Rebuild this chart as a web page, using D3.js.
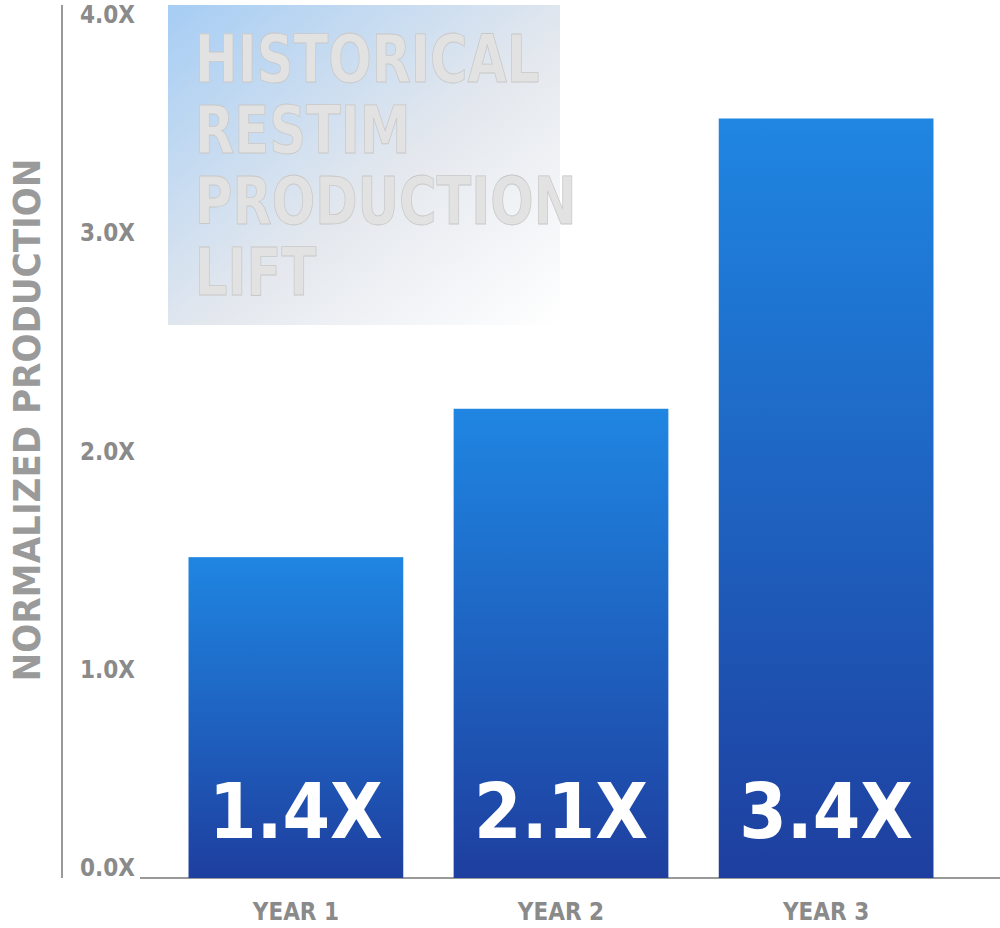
<!DOCTYPE html>
<html><head><meta charset="utf-8">
<script src="https://cdn.jsdelivr.net/npm/d3@7"></script>
<style>body{margin:0;background:#fff}</style>
</head><body><svg id="chart" width="1000" height="928"></svg>
<script>
const categories = ['YEAR 1', 'YEAR 2', 'YEAR 3']
const values = [1.47, 2.15, 3.48]
const valueLabels = ['1.4X', '2.1X', '3.4X']
const ticks = [0, 1, 2, 3, 4]
const titleLines = ['HISTORICAL', 'RESTIM', 'PRODUCTION', 'LIFT']

const font = '"Liberation Sans Narrow", "DejaVu Sans Condensed", sans-serif'
const svg = d3.select('#chart')

const y = d3.scaleLinear().domain([0, 4]).range([878, 5])
const x = d3.scaleBand().domain(categories).range([162, 960]).paddingInner(0.19).paddingOuter(0.1)

const defs = svg.append('defs')
const bg = defs.append('linearGradient').attr('id', 'bar').attr('x1', 0).attr('y1', 0).attr('x2', 0).attr('y2', 1)
bg.append('stop').attr('offset', 0).attr('stop-color', '#1f86e2')
bg.append('stop').attr('offset', 1).attr('stop-color', '#1e3f9f')
const tg = defs.append('linearGradient').attr('id', 'tbox').attr('x1', 0).attr('y1', 0).attr('x2', 1).attr('y2', 1)
tg.append('stop').attr('offset', 0).attr('stop-color', '#a6cdf4')
tg.append('stop').attr('offset', 0.55).attr('stop-color', '#e4e8ee')
tg.append('stop').attr('offset', 1).attr('stop-color', '#ffffff')

// title box
svg.append('rect').attr('x', 168).attr('y', 5).attr('width', 392).attr('height', 320).attr('fill', 'url(#tbox)')
svg.append('g').selectAll('text').data(titleLines).join('text')
  .attr('x', 195).attr('y', (d, i) => 82 + i * 71)
  .attr('font-family', font).attr('font-weight', 'bold').attr('font-size', 66)
  .attr('fill', '#e2e2e2').attr('stroke', '#c8c8c8').attr('stroke-width', 0.8)
  .attr('transform', 'translate(195,0) scale(0.86,1) translate(-195,0)')
  .text(d => d)

// axes lines
svg.append('line').attr('x1', 62).attr('x2', 62).attr('y1', 5).attr('y2', 878).attr('stroke', '#999').attr('stroke-width', 2)
svg.append('line').attr('x1', 140).attr('x2', 1000).attr('y1', 878).attr('y2', 878).attr('stroke', '#999').attr('stroke-width', 2)

svg.append('g').selectAll('text').data(ticks).join('text')
  .attr('x', 80).attr('y', d => y(d) + 0).attr('dy', d => d === 0 ? -2 : 18)
  .attr('font-family', font).attr('font-weight', 'bold').attr('font-size', 24).attr('fill', '#8a8a8a')
  .text(d => d.toFixed(1) + 'X')

svg.append('text').attr('transform', 'translate(40,420) rotate(-90)').attr('text-anchor', 'middle')
  .attr('font-family', font).attr('font-weight', 'bold').attr('font-size', 38).attr('fill', '#9a9a9a')
  .text('NORMALIZED PRODUCTION')

// bars
svg.append('g').selectAll('rect').data(values).join('rect')
  .attr('x', (d, i) => x(categories[i])).attr('width', x.bandwidth())
  .attr('y', d => y(d)).attr('height', d => y(0) - y(d)).attr('fill', 'url(#bar)')

svg.append('g').selectAll('text').data(valueLabels).join('text')
  .attr('x', (d, i) => x(categories[i]) + x.bandwidth() / 2).attr('y', 838).attr('text-anchor', 'middle')
  .attr('font-family', font).attr('font-weight', 'bold').attr('font-size', 76).attr('fill', '#fff')
  .text(d => d)

svg.append('g').selectAll('text').data(categories).join('text')
  .attr('x', d => x(d) + x.bandwidth() / 2).attr('y', 920).attr('text-anchor', 'middle')
  .attr('font-family', font).attr('font-weight', 'bold').attr('font-size', 24).attr('fill', '#8a8a8a')
  .text(d => d)
</script></body></html>
